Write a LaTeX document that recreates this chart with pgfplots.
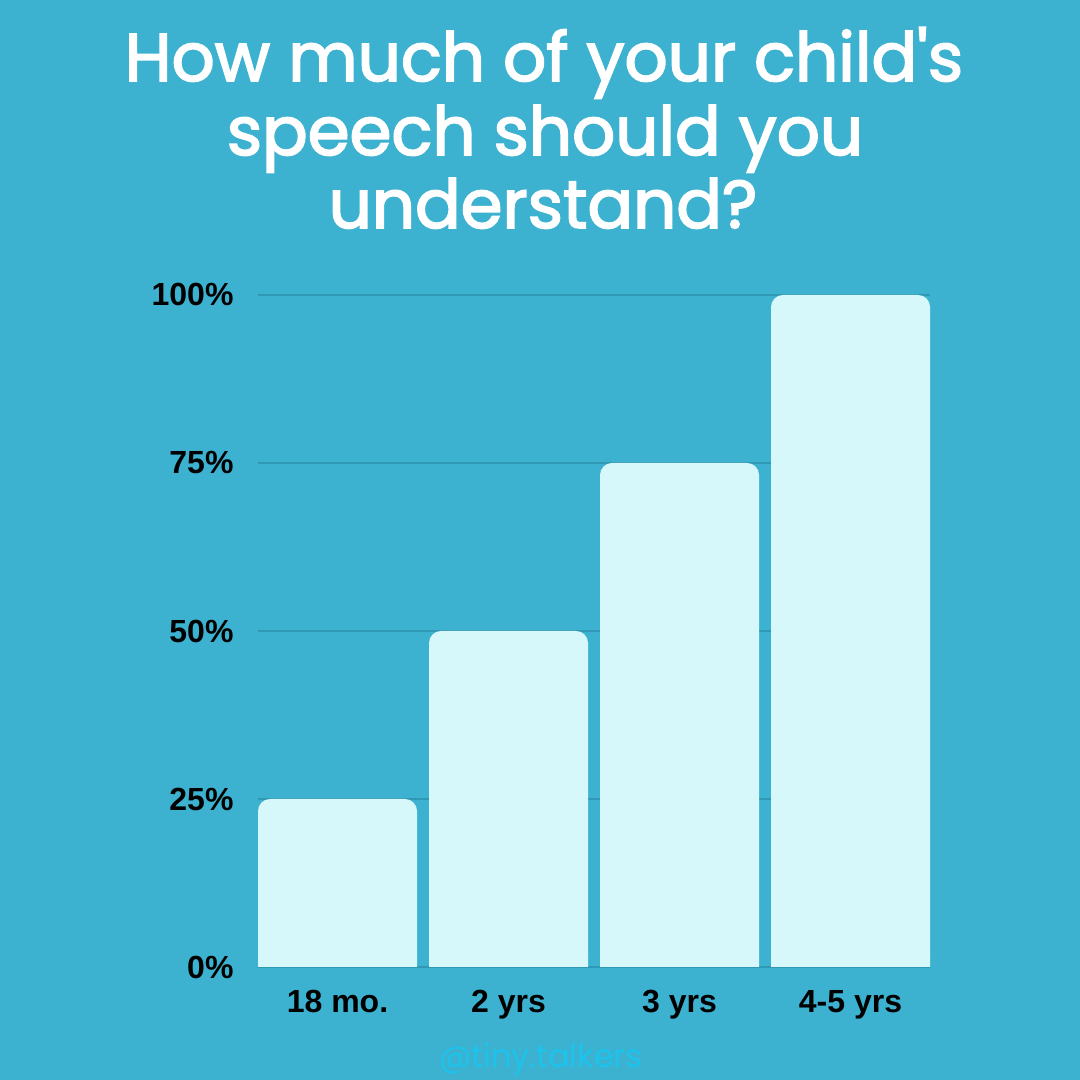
\documentclass[border=0pt]{standalone}
\usepackage{pgfplots}
\pgfplotsset{compat=1.18}
\usepackage{fontspec}
\setmainfont{Liberation Sans}
\newfontfamily\titlefont{Poppins}[FakeBold=2.5]
\newfontfamily\wmfont{Poppins}
\definecolor{bgc}{HTML}{3CB2D0}
\definecolor{barc}{HTML}{D6F8FA}
\definecolor{gridc}{HTML}{2F98B5}
\definecolor{wmc}{HTML}{1CC3EC}
\begin{document}
\begin{tikzpicture}[x=1bp,y=1bp]
\path[use as bounding box, fill=bgc] (0,0) rectangle (1080,1080);
\node[anchor=base,text=white,font={\titlefont\fontsize{67.5bp}{67.5bp}\selectfont}] at (544,999) {How much of your child's};
\node[anchor=base,text=white,font={\titlefont\fontsize{67.5bp}{67.5bp}\selectfont}] at (545,925) {speech should you};
\node[anchor=base,text=white,font={\titlefont\fontsize{67.5bp}{67.5bp}\selectfont}] at (543,852) {understand?};
\node[anchor=base,text=wmc,font={\wmfont\fontsize{32bp}{32bp}\selectfont}] at (541,12) {@tiny.talkers};
\begin{axis}[
  at={(258bp,113bp)}, anchor=south west,
  width=672bp, height=672bp, scale only axis,
  xmin=-0.46491, xmax=3.46491, ymin=0, ymax=100,
  axis line style={draw=none},
  ymajorgrids, grid style={gridc, line width=1.3bp},
  xtick={0,1,2,3}, xticklabels={18 mo.,2 yrs,3 yrs,4-5 yrs},
  ytick={0,25,50,75,100}, yticklabels={0\%,25\%,50\%,75\%,100\%},
  major tick length=0pt,
  ticklabel style={font=\bfseries\fontsize{32bp}{32bp}\selectfont, text=black},
  yticklabel style={anchor=east, xshift=-21bp},
  xticklabel style={anchor=base, yshift=-46bp},
  clip=false,
]
\addplot[ybar, bar width=159bp, bar shift=0pt, fill=barc, draw=none, rounded corners=12bp] coordinates {(0,25) (1,50) (2,75) (3,100)};
\addplot[ybar, bar width=159bp, bar shift=0pt, fill=barc, draw=none, sharp corners] coordinates {(0,2) (1,2) (2,2) (3,2)};
\end{axis}
\end{tikzpicture}
\end{document}
